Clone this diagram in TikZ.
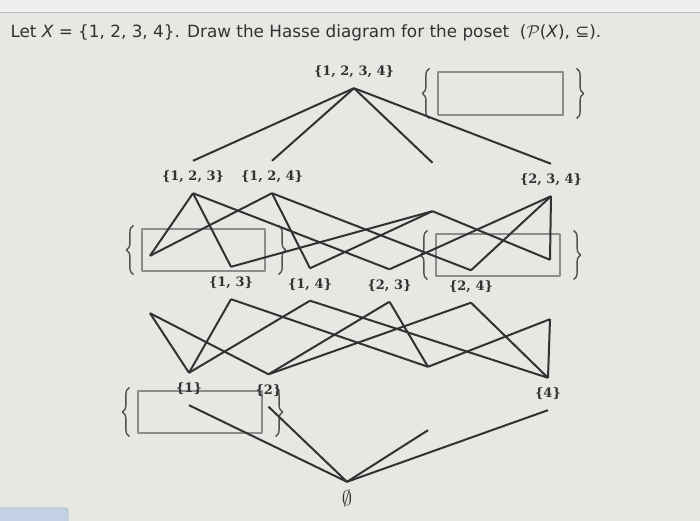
\documentclass[tikz,border=0pt]{standalone}
\usepackage{fontspec}
\setmainfont{DejaVu Sans}
\newfontfamily\setfont{DejaVu Serif}
\usepackage[x11names, svgnames, rgb]{xcolor}
\usepackage{tikz}
\usetikzlibrary{decorations.pathreplacing}
\usepackage{amsmath}

\definecolor{paper}{RGB}{231,231,228}
\definecolor{band}{RGB}{239,239,237}
\definecolor{ink}{RGB}{50,50,50}
\definecolor{frame}{RGB}{140,140,140}
\definecolor{button}{RGB}{196,210,229}

\tikzset{
  elem/.style={inner sep=0pt, minimum height=32bp, text=ink, font=\setfont\bfseries\fontsize{13}{15}\selectfont},
  hidden/.style={inner sep=0pt},
  edge/.style={draw=ink, line width=2bp},
  answer/.style={draw=frame, line width=1.2bp, inner sep=0pt},
  lbrace/.style={draw=ink!85, line width=1.4bp, decorate, decoration={brace, amplitude=7bp}},
}

\begin{document}
\begin{tikzpicture}[line join=bevel]
%%
\useasboundingbox [fill=paper] (0bp,0bp) rectangle (700bp,521bp);
\fill [band] (0bp,509bp) rectangle (700bp,521bp);
\draw [frame!60, line width=0.6bp] (0bp,509bp) -- (700bp,509bp);
\draw [frame, fill=button, rounded corners=3bp] (-5bp,-10bp) rectangle (68bp,13bp);
%
\node (title) at (7.0bp,488.0bp) [anchor=west, text=ink, font=\fontsize{16.9}{19}\selectfont]
  {Let {\itshape X} = \{1, 2, 3, 4\}. Draw the Hasse diagram for the poset\ \ ($\mathcal{P}$({\itshape X}), ⊆).};
%
\node (ansTop) at (500.5bp,427.5bp) [answer, minimum width=125bp, minimum height=43bp] {};
  \node (ansLeft) at (203.5bp,271.0bp) [answer, minimum width=123bp, minimum height=42bp] {};
  \node (ansRight) at (498.0bp,266.0bp) [answer, minimum width=124bp, minimum height=42bp] {};
  \node (ansLow) at (200.0bp,109.0bp) [answer, minimum width=124bp, minimum height=42bp] {};
  \draw [lbrace] ([shift={(-8bp,-3bp)}]ansTop.south west) -- ([shift={(-8bp,3bp)}]ansTop.north west);
  \draw [lbrace] ([shift={(13bp,3bp)}]ansTop.north east) -- ([shift={(13bp,-3bp)}]ansTop.south east);
  \draw [lbrace] ([shift={(-8bp,-3bp)}]ansLeft.south west) -- ([shift={(-8bp,3bp)}]ansLeft.north west);
  \draw [lbrace] ([shift={(13bp,3bp)}]ansLeft.north east) -- ([shift={(13bp,-3bp)}]ansLeft.south east);
  \draw [lbrace] ([shift={(-8bp,-3bp)}]ansRight.south west) -- ([shift={(-8bp,3bp)}]ansRight.north west);
  \draw [lbrace] ([shift={(13bp,3bp)}]ansRight.north east) -- ([shift={(13bp,-3bp)}]ansRight.south east);
  \draw [lbrace] ([shift={(-8bp,-3bp)}]ansLow.south west) -- ([shift={(-8bp,3bp)}]ansLow.north west);
  \draw [lbrace] ([shift={(13bp,3bp)}]ansLow.north east) -- ([shift={(13bp,-3bp)}]ansLow.south east);
%
\node (n1234) at (354.0bp,449.0bp) [elem] {\{1, 2, 3, 4\}};
  \node (n123) at (193.0bp,344.0bp) [elem] {\{1, 2, 3\}};
  \node (n124) at (272.0bp,344.0bp) [elem] {\{1, 2, 4\}};
  \node (n134) at (432.5bp,334.0bp) [hidden, minimum height=48bp] {};
  \node (n234) at (551.0bp,341.0bp) [elem] {\{2, 3, 4\}};
  \node (n12) at (150.0bp,236.5bp) [hidden, minimum height=57bp] {};
  \node (n13) at (231.0bp,238.0bp) [elem] {\{1, 3\}};
  \node (n14) at (310.0bp,236.5bp) [elem] {\{1, 4\}};
  \node (n23) at (389.5bp,235.5bp) [elem] {\{2, 3\}};
  \node (n24) at (471.0bp,234.5bp) [elem] {\{2, 4\}};
  \node (n34) at (550.0bp,231.5bp) [hidden, minimum height=59bp] {};
  \node (n1) at (189.0bp,132.0bp) [elem] {\{1\}};
  \node (n2) at (268.5bp,130.5bp) [elem] {\{2\}};
  \node (n3) at (428.0bp,122.5bp) [hidden, minimum height=63bp] {};
  \node (n4) at (548.0bp,127.0bp) [elem] {\{4\}};
  \node (nempty) at (347.0bp,23.0bp) [elem, font=\fontsize{22}{22}\selectfont] {$\emptyset$};
%
\draw [edge] (n1234.south) -- (n123.north);
  \draw [edge] (n1234.south) -- (n124.north);
  \draw [edge] (n1234.south) -- (n134.north);
  \draw [edge] (n1234.south) -- (n234.north);
  \draw [edge] (n123.south) -- (n12.north);
  \draw [edge] (n123.south) -- (n13.north);
  \draw [edge] (n123.south) -- (n23.north);
  \draw [edge] (n124.south) -- (n12.north);
  \draw [edge] (n124.south) -- (n14.north);
  \draw [edge] (n124.south) -- (n24.north);
  \draw [edge] (n134.south) -- (n13.north);
  \draw [edge] (n134.south) -- (n14.north);
  \draw [edge] (n134.south) -- (n34.north);
  \draw [edge] (n234.south) -- (n23.north);
  \draw [edge] (n234.south) -- (n24.north);
  \draw [edge] (n234.south) -- (n34.north);
  \draw [edge] (n12.south) -- (n1.north);
  \draw [edge] (n12.south) -- (n2.north);
  \draw [edge] (n13.south) -- (n1.north);
  \draw [edge] (n13.south) -- (n3.north);
  \draw [edge] (n14.south) -- (n1.north);
  \draw [edge] (n14.south) -- (n4.north);
  \draw [edge] (n23.south) -- (n2.north);
  \draw [edge] (n23.south) -- (n3.north);
  \draw [edge] (n24.south) -- (n2.north);
  \draw [edge] (n24.south) -- (n4.north);
  \draw [edge] (n34.south) -- (n3.north);
  \draw [edge] (n34.south) -- (n4.north);
  \draw [edge] (n1.south) -- (nempty.north);
  \draw [edge] (n2.south) -- (nempty.north);
  \draw [edge] (n3.south) -- (nempty.north);
  \draw [edge] (n4.south) -- (nempty.north);
%
\end{tikzpicture}
\end{document}
